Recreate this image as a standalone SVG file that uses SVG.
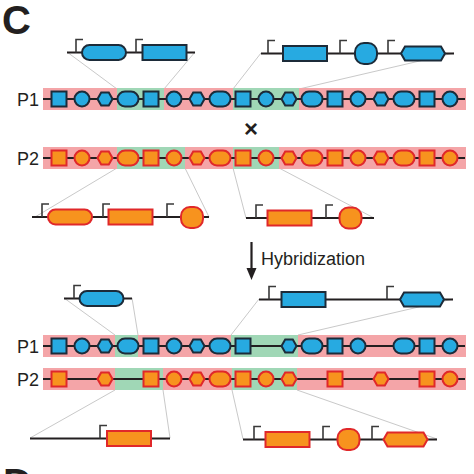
<svg xmlns="http://www.w3.org/2000/svg" xmlns:xlink="http://www.w3.org/1999/xlink" width="474" height="474" viewBox="0 0 474 474">
<style>
.lab{font-family:"Liberation Sans",Arial,sans-serif;fill:#231f20}
.pk{fill:#f4a5a8}
.gr{fill:#a0d7b6}
.bb{stroke:#231f20;stroke-width:2;fill:none}
.b{fill:#27aae1;stroke:#1c2b39;stroke-width:2}
.o{fill:#f7931e;stroke:#e0282a;stroke-width:2}
.pr{stroke:#3a3a3a;stroke-width:1.6;fill:none}
.cn{stroke:#c9c9c9;stroke-width:1;fill:none}
</style>
<defs>
<rect id="sq" x="-7.5" y="-7.5" width="15" height="15"/>
<circle id="ci" r="7.5"/>
<polygon id="hx" points="-7.5,0 -3.8,-6.5 3.8,-6.5 7.5,0 3.8,6.5 -3.8,6.5"/>
<rect id="pl" x="-10.5" y="-7.5" width="21" height="15" rx="7.5"/>
<rect id="cpill" x="-22" y="-7.5" width="44" height="15" rx="7.5"/>
<rect id="crect" x="-22" y="-7.5" width="44" height="15"/>
<rect id="cbig" x="-11" y="-10.5" width="22" height="21" rx="9"/>
<polygon id="chex" points="-22,0 -18,-7 18,-7 22,0 18,7 -18,7"/>
<path id="prom" d="M0,0 V-13 H7"/>
</defs>

<text class="lab" x="2" y="34" font-size="40" font-weight="bold">C</text>
<text class="lab" x="3" y="497" font-size="40" font-weight="bold">D</text>

<g id="connectors">
<line class="cn" x1="67" y1="52" x2="117" y2="89"/>
<line class="cn" x1="195" y1="52" x2="164" y2="89"/>
<line class="cn" x1="261" y1="53" x2="233" y2="89"/>
<line class="cn" x1="454" y1="53" x2="299" y2="89"/>
<line class="cn" x1="117" y1="168" x2="35" y2="217"/>
<line class="cn" x1="185" y1="168" x2="209" y2="217"/>
<line class="cn" x1="233" y1="168" x2="246" y2="218"/>
<line class="cn" x1="279" y1="168" x2="374" y2="218"/>
<line class="cn" x1="64" y1="298" x2="115" y2="335"/>
<line class="cn" x1="132" y1="298" x2="138" y2="335"/>
<line class="cn" x1="259" y1="299" x2="231" y2="335"/>
<line class="cn" x1="453" y1="299" x2="298" y2="335"/>
<line class="cn" x1="115" y1="390" x2="30" y2="438"/>
<line class="cn" x1="163" y1="390" x2="170" y2="438"/>
<line class="cn" x1="232" y1="390" x2="243" y2="439"/>
<line class="cn" x1="297" y1="390" x2="437" y2="439"/>
</g>

<g id="p1-top">
<text class="lab" x="17" y="106" font-size="18">P1</text>
<rect class="pk" x="43" y="88" width="74" height="22"/>
<rect class="gr" x="117" y="88" width="47" height="22"/>
<rect class="pk" x="164" y="88" width="69" height="22"/>
<rect class="gr" x="233" y="88" width="66" height="22"/>
<rect class="pk" x="299" y="88" width="167" height="22"/>
<line class="bb" x1="43" y1="99" x2="465" y2="99"/>
<g class="b">
<use href="#sq" x="59" y="99"/><use href="#ci" x="82" y="99"/><use href="#hx" x="105" y="99"/><use href="#pl" x="128" y="99"/>
<use href="#sq" x="151" y="99"/><use href="#ci" x="174" y="99"/><use href="#hx" x="197" y="99"/><use href="#pl" x="220" y="99"/>
<use href="#sq" x="243" y="99"/><use href="#ci" x="266" y="99"/><use href="#hx" x="289" y="99"/><use href="#pl" x="312" y="99"/>
<use href="#sq" x="335" y="99"/><use href="#ci" x="358" y="99"/><use href="#hx" x="381" y="99"/><use href="#pl" x="404" y="99"/>
<use href="#sq" x="427" y="99"/><use href="#ci" x="450" y="99"/>
</g>
</g>

<g id="p2-top">
<text class="lab" x="17" y="165" font-size="18">P2</text>
<rect class="pk" x="43" y="147" width="74" height="22"/>
<rect class="gr" x="117" y="147" width="68" height="22"/>
<rect class="pk" x="185" y="147" width="48" height="22"/>
<rect class="gr" x="233" y="147" width="46" height="22"/>
<rect class="pk" x="279" y="147" width="187" height="22"/>
<line class="bb" x1="43" y1="158" x2="465" y2="158"/>
<g class="o">
<use href="#sq" x="59" y="158"/><use href="#ci" x="82" y="158"/><use href="#hx" x="105" y="158"/><use href="#pl" x="128" y="158"/>
<use href="#sq" x="151" y="158"/><use href="#ci" x="174" y="158"/><use href="#hx" x="197" y="158"/><use href="#pl" x="220" y="158"/>
<use href="#sq" x="243" y="158"/><use href="#ci" x="266" y="158"/><use href="#hx" x="289" y="158"/><use href="#pl" x="312" y="158"/>
<use href="#sq" x="335" y="158"/><use href="#ci" x="358" y="158"/><use href="#hx" x="381" y="158"/><use href="#pl" x="404" y="158"/>
<use href="#sq" x="427" y="158"/><use href="#ci" x="450" y="158"/>
</g>
</g>

<g id="cross">
<text class="lab" x="251" y="137" font-size="24" font-weight="bold" text-anchor="middle">×</text>
</g>

<g id="construct-top-left">
<line class="bb" x1="67" y1="52.5" x2="195" y2="52.5"/>
<use class="pr" href="#prom" x="76" y="52.5"/>
<use class="pr" href="#prom" x="136" y="52.5"/>
<use class="b" href="#cpill" x="104" y="52.5"/>
<use class="b" href="#crect" x="164.5" y="52.5"/>
</g>

<g id="construct-top-right">
<line class="bb" x1="261" y1="53.5" x2="454" y2="53.5"/>
<use class="pr" href="#prom" x="268" y="53.5"/>
<use class="pr" href="#prom" x="340" y="53.5"/>
<use class="pr" href="#prom" x="388" y="53.5"/>
<use class="b" href="#crect" x="305" y="53.5"/>
<use class="b" href="#cbig" x="366" y="53.5"/>
<use class="b" href="#chex" x="423" y="53.5"/>
</g>

<g id="construct-p2-left">
<line class="bb" x1="32" y1="217" x2="209" y2="217"/>
<use class="pr" href="#prom" x="42" y="217"/>
<use class="pr" href="#prom" x="103" y="217"/>
<use class="pr" href="#prom" x="167" y="217"/>
<use class="o" href="#cpill" x="70" y="217"/>
<use class="o" href="#crect" x="130.5" y="217"/>
<use class="o" href="#cbig" x="192" y="217.5"/>
</g>

<g id="construct-p2-right">
<line class="bb" x1="246" y1="218" x2="374" y2="218"/>
<use class="pr" href="#prom" x="256" y="218"/>
<use class="pr" href="#prom" x="326" y="218"/>
<use class="o" href="#crect" x="289.5" y="218"/>
<use class="o" href="#cbig" x="350.5" y="218"/>
</g>

<g id="hybridization">
<line x1="251.5" y1="242" x2="251.5" y2="270" stroke="#231f20" stroke-width="2.2"/>
<polygon points="246.5,268 256.5,268 251.5,280" fill="#231f20"/>
<text class="lab" x="261" y="265" font-size="18">Hybridization</text>
</g>

<g id="construct-h-top-left">
<line class="bb" x1="64" y1="298.5" x2="132" y2="298.5"/>
<use class="pr" href="#prom" x="74" y="298.5"/>
<use class="b" href="#cpill" x="101.5" y="298.5"/>
</g>

<g id="construct-h-top-right">
<line class="bb" x1="259" y1="299.5" x2="453" y2="299.5"/>
<use class="pr" href="#prom" x="269" y="299.5"/>
<use class="pr" href="#prom" x="387" y="299.5"/>
<use class="b" href="#crect" x="303.5" y="299.5"/>
<use class="b" href="#chex" x="422" y="299.5"/>
</g>

<g id="p1-hybrid">
<text class="lab" x="17" y="353" font-size="18">P1</text>
<rect class="pk" x="43" y="335" width="72" height="22"/>
<rect class="gr" x="115" y="335" width="23" height="22"/>
<rect class="pk" x="138" y="335" width="93" height="22"/>
<rect class="gr" x="231" y="335" width="67" height="22"/>
<rect class="pk" x="298" y="335" width="168" height="22"/>
<line class="bb" x1="43" y1="346" x2="465" y2="346"/>
<g class="b">
<use href="#sq" x="59" y="346"/><use href="#ci" x="82" y="346"/><use href="#hx" x="105" y="346"/><use href="#pl" x="128" y="346"/>
<use href="#sq" x="151" y="346"/><use href="#ci" x="174" y="346"/><use href="#hx" x="197" y="346"/><use href="#pl" x="220" y="346"/>
<use href="#sq" x="243" y="346"/><use href="#hx" x="289" y="346"/><use href="#pl" x="312" y="346"/>
<use href="#sq" x="335" y="346"/><use href="#ci" x="358" y="346"/><use href="#pl" x="404" y="346"/>
<use href="#sq" x="427" y="346"/><use href="#ci" x="450" y="346"/>
</g>
</g>

<g id="p2-hybrid">
<text class="lab" x="17" y="386" font-size="18">P2</text>
<rect class="pk" x="43" y="368" width="72" height="22"/>
<rect class="gr" x="115" y="368" width="48" height="22"/>
<rect class="pk" x="163" y="368" width="69" height="22"/>
<rect class="gr" x="232" y="368" width="65" height="22"/>
<rect class="pk" x="297" y="368" width="169" height="22"/>
<line class="bb" x1="43" y1="379" x2="465" y2="379"/>
<g class="o">
<use href="#sq" x="59" y="379"/><use href="#hx" x="105" y="379"/>
<use href="#sq" x="151" y="379"/><use href="#ci" x="174" y="379"/><use href="#hx" x="197" y="379"/><use href="#pl" x="220" y="379"/>
<use href="#sq" x="243" y="379"/><use href="#ci" x="266" y="379"/><use href="#hx" x="289" y="379"/>
<use href="#sq" x="335" y="379"/><use href="#hx" x="381" y="379"/>
<use href="#sq" x="427" y="379"/><use href="#ci" x="450" y="379"/>
</g>
</g>

<g id="construct-h-bottom-left">
<line class="bb" x1="30" y1="438.5" x2="170" y2="438.5"/>
<use class="pr" href="#prom" x="100" y="438.5"/>
<use class="o" href="#crect" x="129" y="438.5"/>
</g>

<g id="construct-h-bottom-right">
<line class="bb" x1="243" y1="439.5" x2="437" y2="439.5"/>
<use class="pr" href="#prom" x="254" y="439.5"/>
<use class="pr" href="#prom" x="323" y="439.5"/>
<use class="pr" href="#prom" x="372" y="439.5"/>
<use class="o" href="#crect" x="287.5" y="439.5"/>
<use class="o" href="#cbig" x="348.5" y="439.5"/>
<use class="o" href="#chex" x="405.5" y="439.5"/>
</g>
</svg>
